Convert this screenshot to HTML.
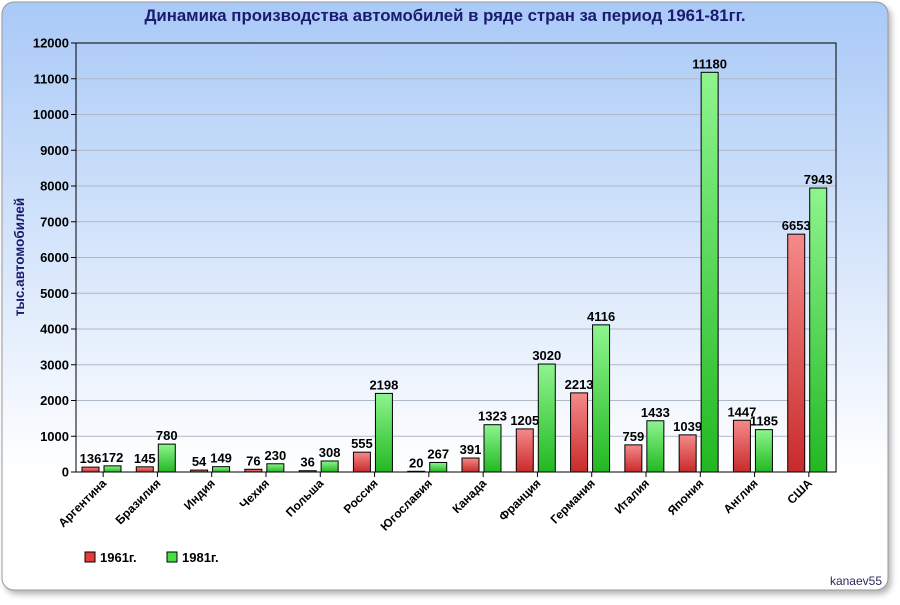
<!DOCTYPE html>
<html><head><meta charset="utf-8"><style>
body{margin:0;width:900px;height:600px;background:#fff;overflow:hidden}
svg{font-family:"Liberation Sans",sans-serif}
</style></head><body>
<svg id="c" width="900" height="600">
<defs>
<linearGradient id="bg" x1="0" y1="0" x2="0" y2="1"><stop offset="0" stop-color="#a9c9f7"/><stop offset="0.8" stop-color="#ffffff"/><stop offset="1" stop-color="#ffffff"/></linearGradient>
<linearGradient id="gr" x1="0" y1="0" x2="0" y2="1"><stop offset="0" stop-color="#f58a8a"/><stop offset="1" stop-color="#c92a2a"/></linearGradient>
<linearGradient id="gg" x1="0" y1="0" x2="0" y2="1"><stop offset="0" stop-color="#8ef58e"/><stop offset="1" stop-color="#22b822"/></linearGradient>
<filter id="sh"><feDropShadow dx="3" dy="4" stdDeviation="3" flood-color="#888" flood-opacity="0.6"/></filter>
</defs>
<rect x="2" y="2" width="886" height="588" rx="12" fill="url(#bg)" stroke="#999" filter="url(#sh)"/>
<text x="445" y="21" text-anchor="middle" font-size="16.8" font-weight="bold" fill="#1a1a6e">Динамика производства автомобилей в ряде стран за период 1961-81гг.</text>
<text transform="translate(24,257) rotate(-90)" text-anchor="middle" font-size="13.5" font-weight="bold" fill="#1a1a6e">тыс.автомобилей</text>
<g id="grid"></g><g id="bars"></g><g id="axes"></g>
<rect x="85" y="552" width="10" height="10" fill="#e83a3a" stroke="#000"/>
<text x="100" y="562" font-size="13" font-weight="bold">1961г.</text>
<rect x="167" y="552" width="10" height="10" fill="#44e044" stroke="#000"/>
<text x="182" y="562" font-size="13" font-weight="bold">1981г.</text>
<text x="882" y="585" text-anchor="end" font-size="12" fill="#2a2a5a">kanaev55</text>
</svg>
<script>
const categories=["Аргентина","Бразилия","Индия","Чехия","Польша","Россия","Югославия","Канада","Франция","Германия","Италия","Япония","Англия","США"];
const values1961=[136,145,54,76,36,555,20,391,1205,2213,759,1039,1447,6653];
const values1981=[172,780,149,230,308,2198,267,1323,3020,4116,1433,11180,1185,7943];
const yTicks=[0,1000,2000,3000,4000,5000,6000,7000,8000,9000,10000,11000,12000];
const NS="http://www.w3.org/2000/svg";
const X0=76,X1=836,Y0=472,Y1=43,YMAX=12000;
const bw=(X1-X0)/categories.length;
const y=v=>Y0-(v/YMAX)*(Y0-Y1);
function mk(t,a,p){const e=document.createElementNS(NS,t);for(const k in a)e.setAttribute(k,a[k]);p.appendChild(e);return e;}
const grid=document.getElementById('grid'),bars=document.getElementById('bars'),axes=document.getElementById('axes');
yTicks.forEach(v=>{
 if(v>0){const l=mk('line',{x1:X0,x2:X1,y1:y(v),y2:y(v),stroke:'#b0b8c8'},grid);
 
 }
 const tk=mk('line',{x1:X0-5,x2:X0,y1:y(v),y2:y(v),stroke:'#000'},axes);
 
 
 const t=mk('text',{x:X0-7,y:y(v)+4.5,'text-anchor':'end','font-size':13,'font-weight':'bold'},axes);
 t.textContent=v;
 
 
});
mk('rect',{x:X0,y:Y1,width:X1-X0,height:Y0-Y1,fill:'none',stroke:'#000'},axes);
categories.forEach((c,i)=>{
 const gx=X0+i*bw, cx=gx+bw/2;
 [[values1961[i],'url(#gr)',gx+6,'bar-1961'],[values1981[i],'url(#gg)',gx+28,'bar-1981']].forEach(([v,f,bx,nm])=>{
  const r=mk('rect',{x:bx,y:y(v),width:17,height:Y0-y(v),fill:f,stroke:'#000','stroke-width':1},bars);
  
  
  const t=mk('text',{x:bx+8.5,y:y(v)-4,'text-anchor':'middle','font-size':13,'font-weight':'bold'},bars);
  t.textContent=v;
  
  
 });
 const tk=mk('line',{x1:cx,x2:cx,y1:Y0,y2:Y0+5,stroke:'#000'},axes);
 
 
 const t=mk('text',{transform:`translate(${cx+4},${Y0+12}) rotate(-45)`,'text-anchor':'end','font-size':12,'font-weight':'bold'},axes);
 t.textContent=c;
 
 
});
</script>
</body></html>
